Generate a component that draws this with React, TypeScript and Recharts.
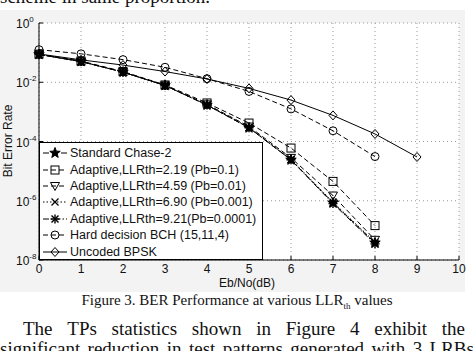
import React from 'react';
import { LineChart, Line, XAxis, YAxis, CartesianGrid, Legend } from 'recharts';

// ---- data ----
const ebNo = [0, 1, 2, 3, 4, 5, 6, 7, 8, 9];
const chase2 = [0.087, 0.05, 0.022, 0.0078, 0.0017, 2.9e-4, 2.4e-5, 8.5e-7, 3.8e-8];
const adaptive219 = [0.089, 0.052, 0.023, 0.0081, 0.002, 4.2e-4, 6.0e-5, 4.5e-6, 1.45e-7];
const adaptive459 = [0.087, 0.05, 0.022, 0.0078, 0.0018, 3.2e-4, 2.8e-5, 1.5e-6, 4.8e-8];
const adaptive690 = [0.087, 0.05, 0.022, 0.0078, 0.0017, 3.0e-4, 2.5e-5, 9.0e-7, 4.0e-8];
const adaptive921 = [0.087, 0.05, 0.022, 0.0078, 0.0017, 2.9e-4, 2.4e-5, 8.0e-7, 3.5e-8];
const bch = [0.126, 0.091, 0.058, 0.032, 0.0132, 0.0049, 0.00126, 2.3e-4, 3.1e-5];
const bpsk = [0.09, 0.057, 0.038, 0.023, 0.0129, 0.0062, 0.0025, 7.6e-4, 1.8e-4, 3.0e-5];

const xTicks = [0, 1, 2, 3, 4, 5, 6, 7, 8, 9, 10];
const yTicks = [1, 1e-2, 1e-4, 1e-6, 1e-8];
const yTickExp = ['0', '-2', '-4', '-6', '-8'];

const seriesNames = [
  'Standard Chase-2',
  'Adaptive,LLRth=2.19 (Pb=0.1)',
  'Adaptive,LLRth=4.59 (Pb=0.01)',
  'Adaptive,LLRth=6.90 (Pb=0.001)',
  'Adaptive,LLRth=9.21(Pb=0.0001)',
  'Hard decision BCH (15,11,4)',
  'Uncoded BPSK',
];
const seriesKeys = ['chase2', 'a219', 'a459', 'a690', 'a921', 'bch', 'bpsk'];
const seriesValues = [chase2, adaptive219, adaptive459, adaptive690, adaptive921, bch, bpsk];
const seriesShapes = ['star', 'square', 'triDown', 'cross', 'asterisk', 'circle', 'diamond'];
const seriesDash = ['6 3', '5 3', '5 3', '1.5 2', '6 2 1.5 2', '5 3', undefined];

const data = ebNo.map((x, i) => {
  const row: Record<string, number | undefined> = { x };
  seriesKeys.forEach((k, s) => {
    row[k] = seriesValues[s][i];
  });
  return row;
});

// ---- layout constants ----
const W = 474;
const H = 351;
const M_TOP = 23;
const M_RIGHT = 15;
const Y_W = 39;
const X_H = 91;
const PLOT_LEFT = Y_W;
const PLOT_RIGHT = W - M_RIGHT;
const PLOT_BOTTOM = H - X_H;
const FONT = '"Liberation Sans", Arial, sans-serif';
const SERIF = '"Liberation Serif", "Times New Roman", serif';

function Marker({ shape, cx, cy }: { shape: string; cx: number; cy: number }) {
  const s = '#000';
  if (shape === 'star') {
    const pts: string[] = [];
    for (let i = 0; i < 10; i++) {
      const r = i % 2 === 0 ? 5.5 : 2.3;
      const a = -Math.PI / 2 + (i * Math.PI) / 5;
      pts.push(`${cx + r * Math.cos(a)},${cy + r * Math.sin(a)}`);
    }
    return <polygon points={pts.join(' ')} fill="#000" stroke={s} strokeWidth={1} />;
  }
  if (shape === 'square') {
    return <rect x={cx - 4} y={cy - 4} width={8} height={8} fill="none" stroke={s} strokeWidth={1} />;
  }
  if (shape === 'triDown') {
    return (
      <polygon
        points={`${cx - 4.5},${cy - 3.5} ${cx + 4.5},${cy - 3.5} ${cx},${cy + 4.5}`}
        fill="none"
        stroke={s}
        strokeWidth={1}
      />
    );
  }
  if (shape === 'cross') {
    return (
      <g stroke={s} strokeWidth={1.2}>
        <line x1={cx - 3.5} y1={cy - 3.5} x2={cx + 3.5} y2={cy + 3.5} />
        <line x1={cx - 3.5} y1={cy + 3.5} x2={cx + 3.5} y2={cy - 3.5} />
      </g>
    );
  }
  if (shape === 'asterisk') {
    return (
      <g stroke={s} strokeWidth={1.4}>
        <line x1={cx - 3.5} y1={cy - 3.5} x2={cx + 3.5} y2={cy + 3.5} />
        <line x1={cx - 3.5} y1={cy + 3.5} x2={cx + 3.5} y2={cy - 3.5} />
        <line x1={cx - 4.5} y1={cy} x2={cx + 4.5} y2={cy} />
        <line x1={cx} y1={cy - 4.5} x2={cx} y2={cy + 4.5} />
      </g>
    );
  }
  if (shape === 'circle') {
    return <circle cx={cx} cy={cy} r={4} fill="none" stroke={s} strokeWidth={1} />;
  }
  // diamond
  return (
    <polygon
      points={`${cx},${cy - 4.5} ${cx + 4},${cy} ${cx},${cy + 4.5} ${cx - 4},${cy}`}
      fill="none"
      stroke={s}
      strokeWidth={1}
    />
  );
}

const XTick = (props: any) => {
  const { x, payload } = props;
  return (
    <g>
      <line x1={x} x2={x} y1={PLOT_BOTTOM} y2={PLOT_BOTTOM - 4} stroke="#000" />
      <text x={x} y={PLOT_BOTTOM + 13} textAnchor="middle" fontSize={12} fontFamily={FONT} fill="#111">
        {payload.value}
      </text>
    </g>
  );
};

const TopTick = (props: any) => {
  const { x } = props;
  return <line x1={x} x2={x} y1={M_TOP} y2={M_TOP + 4} stroke="#000" />;
};

const YTick = (props: any) => {
  const { y, payload } = props;
  const idx = yTicks.indexOf(payload.value);
  return (
    <g>
      <line x1={PLOT_LEFT} x2={PLOT_LEFT + 4} y1={y} y2={y} stroke="#000" />
      <text x={16} y={y + 5} fontSize={12} fontFamily={FONT} fill="#111">
        <tspan>10</tspan>
        <tspan dy={-6} fontSize={8}>
          {idx >= 0 ? yTickExp[idx] : ''}
        </tspan>
      </text>
    </g>
  );
};

const RightTick = (props: any) => {
  const { y } = props;
  return <line x1={PLOT_RIGHT} x2={PLOT_RIGHT - 4} y1={y} y2={y} stroke="#000" />;
};

const LegendBox = () => (
  <div
    style={{
      width: 224,
      height: 118,
      boxSizing: 'border-box',
      border: '1px solid #000',
      background: '#fff',
      fontFamily: FONT,
      fontSize: 12.5,
      color: '#111',
      paddingTop: 2,
    }}
  >
    {seriesNames.map((name, i) => (
      <div key={name} style={{ display: 'flex', alignItems: 'center', height: 16.4, whiteSpace: 'nowrap' }}>
        <svg width={28} height={14} style={{ marginLeft: 2, flex: 'none' }}>
          <line x1={1} x2={25} y1={7} y2={7} stroke="#000" strokeWidth={1} strokeDasharray={seriesDash[i]} />
          <Marker shape={seriesShapes[i]} cx={13} cy={7} />
        </svg>
        <span>{name}</span>
      </div>
    ))}
  </div>
);

export default function App() {
  return (
    <div style={{ position: 'absolute', left: 0, top: 0, width: W, height: H, overflow: 'hidden', background: '#fff' }}>
      <div
        style={{
          position: 'absolute',
          left: 0,
          top: -14,
          fontFamily: SERIF,
          fontSize: 19,
          color: '#111',
          whiteSpace: 'nowrap',
        }}
      >
        scheme in same proportion.
      </div>
      <div style={{ position: 'absolute', left: 0, top: 10, width: 465, height: 282, background: '#f3f3f3' }} />
      <div style={{ position: 'absolute', left: 0, top: 0 }}>
        <LineChart width={W} height={H} data={data} margin={{ top: M_TOP, right: M_RIGHT, left: 0, bottom: 0 }}>
          <CartesianGrid
            xAxisId="b"
            yAxisId="l"
            fill="#fff"
            stroke="#999"
            strokeDasharray="1 3"
          />
          <XAxis
            xAxisId="b"
            dataKey="x"
            type="number"
            domain={[0, 10]}
            ticks={xTicks}
            height={X_H}
            tickLine={false}
            axisLine={{ stroke: '#000' }}
            tick={<XTick />}
            interval={0}
            label={{
              content: () => (
                <text x={247} y={287} textAnchor="middle" fontSize={12} fontFamily={FONT} fill="#111">
                  Eb/No(dB)
                </text>
              ),
            }}
          />
          <XAxis
            xAxisId="t"
            orientation="top"
            dataKey="x"
            type="number"
            domain={[0, 10]}
            ticks={xTicks}
            height={0}
            tickLine={false}
            axisLine={{ stroke: '#000' }}
            tick={<TopTick />}
            interval={0}
          />
          <YAxis
            yAxisId="l"
            scale="log"
            type="number"
            domain={[1e-8, 1]}
            allowDataOverflow
            ticks={yTicks}
            width={Y_W}
            tickLine={false}
            axisLine={{ stroke: '#000' }}
            tick={<YTick />}
            interval={0}
            label={{
              content: () => (
                <text
                  x={12}
                  y={141}
                  transform="rotate(-90 12 141)"
                  textAnchor="middle"
                  fontSize={12}
                  fontFamily={FONT}
                  fill="#111"
                >
                  Bit Error Rate
                </text>
              ),
            }}
          />
          <YAxis
            yAxisId="r"
            orientation="right"
            scale="log"
            type="number"
            domain={[1e-8, 1]}
            allowDataOverflow
            ticks={yTicks}
            width={0}
            tickLine={false}
            axisLine={{ stroke: '#000' }}
            tick={<RightTick />}
            interval={0}
          />
          <Legend
            layout="vertical"
            align="center"
            verticalAlign="middle"
            content={() => <LegendBox />}
            wrapperStyle={{ position: 'absolute', left: PLOT_LEFT, top: 142, width: 224, height: 118 }}
          />
          {seriesKeys.map((k, i) => (
            <Line
              key={k}
              xAxisId="b"
              yAxisId="l"
              dataKey={k}
              name={seriesNames[i]}
              type="linear"
              stroke="#000"
              strokeWidth={1}
              strokeDasharray={seriesDash[i]}
              isAnimationActive={false}
              legendType="none"
              dot={(p: any) =>
                p.cx == null || p.cy == null || p.value == null ? (
                  <g key={`${k}-${p.index}`} />
                ) : (
                  <g key={`${k}-${p.index}`}>
                    <Marker shape={seriesShapes[i]} cx={p.cx} cy={p.cy} />
                  </g>
                )
              }
              activeDot={false}
            />
          ))}
        </LineChart>
      </div>
      <div
        style={{
          position: 'absolute',
          left: 0,
          width: 474,
          top: 292,
          textAlign: 'center',
          fontFamily: SERIF,
          fontSize: 15,
          color: '#111',
          whiteSpace: 'nowrap',
        }}
      >
        Figure 3. BER Performance at various LLR<sub style={{ fontSize: 9 }}>th</sub> values
      </div>
      <div
        style={{
          position: 'absolute',
          left: 23,
          width: 442,
          top: 318,
          display: 'flex',
          justifyContent: 'space-between',
          fontFamily: SERIF,
          fontSize: 19,
          color: '#111',
          whiteSpace: 'nowrap',
        }}
      >
        {['The', 'TPs', 'statistics', 'shown', 'in', 'Figure', '4', 'exhibit', 'the'].map((w, i) => (
          <span key={i}>{w}</span>
        ))}
      </div>
      <div
        style={{
          position: 'absolute',
          left: 0,
          width: 474,
          top: 338,
          display: 'flex',
          justifyContent: 'space-between',
          fontFamily: SERIF,
          fontSize: 19,
          color: '#111',
          whiteSpace: 'nowrap',
        }}
      >
        {['significant', 'reduction', 'in', 'test', 'patterns', 'generated', 'with', '3', 'LRBs'].map((w, i) => (
          <span key={i}>{w}</span>
        ))}
      </div>
    </div>
  );
}
